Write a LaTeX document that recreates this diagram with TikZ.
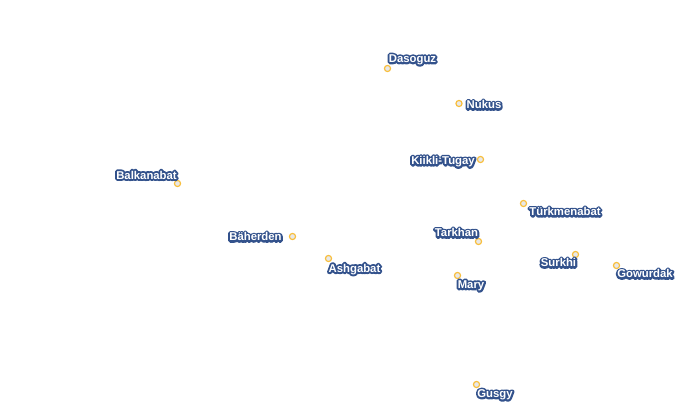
\documentclass[tikz,border=0pt]{standalone}
\usepackage{fontspec}
\setmainfont{Liberation Sans}
\definecolor{ring}{HTML}{F8BE3C}
\definecolor{dotfill}{HTML}{E8E8E8}
\newcommand{\townname}[1]{\rlap{\special{pdf:code q 1 Tr 2.9 w 1 j 0.2 0.32 0.55 RG}#1\special{pdf:code 0 Tr Q}}{\color{white}#1}}
\begin{document}
\begin{tikzpicture}[
      x=0.75pt, y=-0.75pt,
      town/.style={circle, draw=ring, fill=dotfill, line width=0.9pt, inner sep=0pt, minimum size=4.6pt},
      townlabel/.style={inner sep=0pt, font=\bfseries\fontsize{8.5}{10}\selectfont}
      ]
      \useasboundingbox (0,0) rectangle (700,410);

      % Towns
      \node[town] (dasoguz) at (387.5,68.5) {};
      \node[town] (nukus) at (459,103.5) {};
      \node[town] (kiikli) at (480.5,159.5) {};
      \node[town] (balkanabat) at (177.5,183.5) {};
      \node[town] (turkmenabat) at (523.5,203.5) {};
      \node[town] (baherden) at (292.5,236.5) {};
      \node[town] (tarkhan) at (478.5,241.5) {};
      \node[town] (surkhi) at (575.5,254.5) {};
      \node[town] (ashgabat) at (328.5,258.5) {};
      \node[town] (gowurdak) at (616.5,265.5) {};
      \node[town] (mary) at (457.5,275.5) {};
      \node[town] (gusgy) at (476.5,384.5) {};

      % Labels
      \node[townlabel] (dasoguzL) at (412.5,59.7) {\townname{Dasoguz}};
      \node[townlabel] (nukusL) at (484,104.8) {\townname{Nukus}};
      \node[townlabel] (kiikliL) at (443,161.7) {\townname{Kiikli-Tugay}};
      \node[townlabel] (balkanabatL) at (146.5,175) {\townname{Balkanabat}};
      \node[townlabel] (turkmenabatL) at (565,211.7) {\townname{Türkmenabat}};
      \node[townlabel] (baherdenL) at (255.5,236.8) {\townname{Bäherden}};
      \node[townlabel] (tarkhanL) at (456.5,232.8) {\townname{Tarkhan}};
      \node[townlabel] (surkhiL) at (558.5,262.8) {\townname{Surkhi}};
      \node[townlabel] (ashgabatL) at (354.5,269.2) {\townname{Ashgabat}};
      \node[townlabel] (gowurdakL) at (645,273.8) {\townname{Gowurdak}};
      \node[townlabel] (maryL) at (471,285.7) {\townname{Mary}};
      \node[townlabel] (gusgyL) at (495,394.7) {\townname{Gusgy}};

    \end{tikzpicture}
\end{document}
